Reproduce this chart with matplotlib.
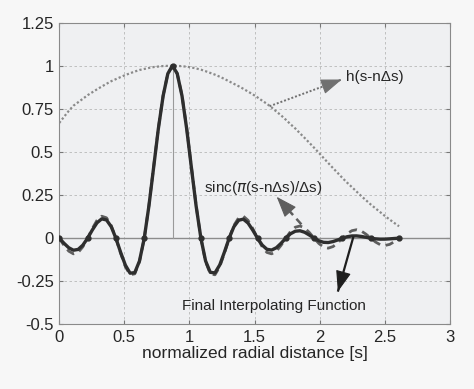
import numpy as np
import matplotlib
matplotlib.use("Agg")
import matplotlib.pyplot as plt

plt.rcParams["font.family"] = ["Liberation Sans", "DejaVu Sans"]

# sample positions along normalized radial distance
s = [0.000, 0.036, 0.073, 0.109, 0.145, 0.181, 0.218, 0.254, 0.290, 0.326,
     0.363, 0.399, 0.435, 0.471, 0.508, 0.544, 0.580, 0.616, 0.653, 0.689,
     0.725, 0.761, 0.798, 0.834, 0.870, 0.906, 0.943, 0.979, 1.015, 1.051,
     1.088, 1.124, 1.160, 1.196, 1.233, 1.269, 1.305, 1.341, 1.378, 1.414,
     1.450, 1.486, 1.523, 1.559, 1.595, 1.631, 1.668, 1.704, 1.740, 1.776,
     1.813, 1.849, 1.885, 1.921, 1.958, 1.994, 2.030, 2.066, 2.103, 2.139,
     2.175, 2.211, 2.248, 2.284, 2.320, 2.356, 2.393, 2.429, 2.465, 2.501,
     2.538, 2.574, 2.610]

# window h(s - n ds)  (dotted)
h_win = [0.668, 0.703, 0.738, 0.768, 0.788, 0.808, 0.829, 0.846, 0.863, 0.879,
         0.895, 0.910, 0.922, 0.934, 0.946, 0.956, 0.966, 0.975, 0.981, 0.987,
         0.992, 0.995, 0.998, 0.999, 1.000, 0.999, 0.997, 0.994, 0.990, 0.984,
         0.977, 0.968, 0.958, 0.948, 0.936, 0.923, 0.909, 0.895, 0.881, 0.866,
         0.850, 0.834, 0.816, 0.797, 0.779, 0.758, 0.734, 0.712, 0.687, 0.661,
         0.636, 0.608, 0.581, 0.553, 0.524, 0.495, 0.465, 0.436, 0.406, 0.378,
         0.349, 0.322, 0.296, 0.270, 0.244, 0.220, 0.195, 0.173, 0.151, 0.129,
         0.108, 0.088, 0.069]

# sinc(pi(s - n ds)/ds)  (dashed)
sinc_v = [0.0, -0.0415, -0.0752, -0.0909, -0.0827, -0.0503, 0.0, 0.0562, 0.1034, 0.1273,
          0.1181, 0.0735, 0.0, -0.0868, -0.1654, -0.2122, -0.2067, -0.1364, 0.0, 0.1910,
          0.4135, 0.6366, 0.8270, 0.9549, 1.0, 0.9549, 0.8270, 0.6366, 0.4135, 0.1910,
          0.0, -0.1364, -0.2067, -0.2122, -0.1654, -0.0868, 0.0, 0.0735, 0.1181, 0.1273,
          0.1034, 0.0562, 0.0, -0.0503, -0.0827, -0.0909, -0.0752, -0.0415, 0.0, 0.0382,
          0.0636, 0.0707, 0.0591, 0.0329, 0.0, -0.0308, -0.0517, -0.0579, -0.0486, -0.0273,
          0.0, 0.0258, 0.0435, 0.0490, 0.0413, 0.0233, 0.0, -0.0222, -0.0376, -0.0424,
          -0.0360, -0.0203, 0.0]

# final interpolating function  (solid)
final_v = [0.0, -0.0292, -0.0555, -0.0698, -0.0652, -0.0406, 0.0, 0.0475, 0.0892, 0.1119,
           0.1057, 0.0669, 0.0, -0.0811, -0.1565, -0.2029, -0.1997, -0.1330, 0.0, 0.1885,
           0.4102, 0.6334, 0.8253, 0.9539, 1.0, 0.9539, 0.8245, 0.6328, 0.4094, 0.1879,
           0.0, -0.1320, -0.1980, -0.2012, -0.1548, -0.0801, 0.0, 0.0658, 0.1040, 0.1102,
           0.0879, 0.0469, 0.0, -0.0401, -0.0644, -0.0689, -0.0552, -0.0295, 0.0, 0.0253,
           0.0404, 0.0430, 0.0343, 0.0182, 0.0, -0.0152, -0.0240, -0.0252, -0.0197, -0.0103,
           0.0, 0.0083, 0.0129, 0.0132, 0.0101, 0.0051, 0.0, -0.0038, -0.0057, -0.0055,
           -0.0039, -0.0018, 0.0]

# sample nodes (n * ds)
node_s = [0.000, 0.218, 0.435, 0.653, 0.870, 1.088, 1.305, 1.523, 1.740, 1.958, 2.175, 2.393, 2.610]
node_v = [0, 0, 0, 0, 1, 0, 0, 0, 0, 0, 0, 0, 0]

x_ticks = [0, 0.5, 1, 1.5, 2, 2.5, 3]
x_labels = ["0", "0.5", "1", "1.5", "2", "2.5", "3"]
y_ticks = [-0.5, -0.25, 0, 0.25, 0.5, 0.75, 1, 1.25]
y_labels = ["-0.5", "-0.25", "0", "0.25", "0.5", "0.75", "1", "1.25"]

TXT = "#262626"


def arrow(ax, tail, tip, color, lw, ls, head=22):
    # shaft in the line style, head drawn solid on top
    ax.plot([tail[0], tip[0]], [tail[1], tip[1]], color=color, lw=lw, ls=ls,
            zorder=7, solid_capstyle="butt")
    dx, dy = tip[0] - tail[0], tip[1] - tail[1]
    back = (tip[0] - dx * 0.15, tip[1] - dy * 0.15)
    ax.annotate("", xy=tip, xytext=back,
                arrowprops=dict(arrowstyle="-|>,head_length=0.6,head_width=0.22",
                                color=color, lw=0.8, mutation_scale=head,
                                shrinkA=0, shrinkB=0), zorder=8)


fig = plt.figure(figsize=(4.74, 3.89), dpi=100, facecolor="#f7f7f7")
ax = fig.add_axes([0.125, 0.166, 0.824, 0.776])
ax.set_facecolor("#eff0f2")

ax.set_xlim(0, 3)
ax.set_ylim(-0.5, 1.25)
ax.set_xticks(x_ticks)
ax.set_xticklabels(x_labels)
ax.set_yticks(y_ticks)
ax.set_yticklabels(y_labels)
ax.tick_params(direction="in", length=3, top=True, right=True,
               labelsize=12, colors="#777777", labelcolor=TXT, pad=4)
for sp in ax.spines.values():
    sp.set_color("#8a8a8a")
    sp.set_linewidth(0.8)
ax.grid(True, color="#b8b8b8", lw=0.6, ls=(0, (3, 3)))
ax.set_axisbelow(True)

# zero line and the centre sample line
ax.plot([0, 3], [0, 0], color="#8c8c8c", lw=1.0, zorder=2)
ax.plot([node_s[4], node_s[4]], [0, 1], color="#9a9a9a", lw=0.8, zorder=2)

ax.plot(s, h_win, color="#8a8a8a", lw=1.6, ls=(0, (1, 1)), zorder=3)
ax.plot(s, sinc_v, color="#5e5e5e", lw=2.0, ls=(0, (3, 2)), zorder=4)
ax.plot(s, final_v, color="#2e2e2e", lw=2.4, zorder=5)
ax.plot(node_s, node_v, "o", color="#2e2e2e", ms=3.5, zorder=6)

# annotations
arrow(ax, (1.615, 0.765), (2.17, 0.92), "#707070", 1.4, (0, (1, 1)))
ax.text(2.2, 0.935, "h(s-nΔs)", fontsize=11, color=TXT, va="center", ha="left")

arrow(ax, (1.86, 0.08), (1.67, 0.24), "#5e5e5e", 1.8, (0, (3, 2)))
ax.text(1.115, 0.29, r"sinc($\pi$(s-nΔs)/Δs)", fontsize=11, color=TXT,
        va="center", ha="left")

arrow(ax, (2.26, 0.01), (2.14, -0.31), "#1e1e1e", 1.6, "-")
ax.text(0.94, -0.394, "Final Interpolating Function", fontsize=11, color=TXT,
        va="center", ha="left")

ax.set_xlabel("normalized radial distance [s]", fontsize=12.5, color=TXT, labelpad=1)

fig.savefig("out.png", dpi=100, facecolor=fig.get_facecolor())
